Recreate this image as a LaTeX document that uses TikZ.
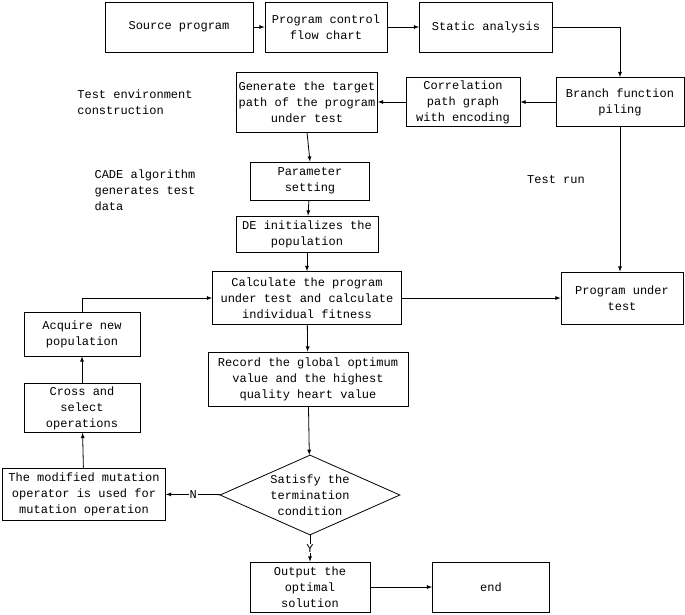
\documentclass[tikz,border=0pt]{standalone}
\usepackage{fontspec}
\setmainfont{Liberation Mono}
\usepackage{tikz}
\usetikzlibrary{arrows}
\usetikzlibrary{shapes.geometric}

\tikzset{box/.style={draw,thick,align=center,inner sep=2pt,font=\fontsize{12}{16}\selectfont},
  lab/.style={align=left,font=\fontsize{12}{16}\selectfont},
  arr/.style={thick,-latex}}

\begin{document}
\begin{tikzpicture}[x=1pt,y=-1pt]
\useasboundingbox (0,0) rectangle (685,614);

\node[box,minimum width=148,minimum height=50] (src) at (179,27) {Source program};
\node[box,minimum width=122,minimum height=50] (flow) at (326,27) {Program control\\flow chart};
\node[box,minimum width=133,minimum height=50] (static) at (486,27) {Static analysis};
\node[box,minimum width=128,minimum height=49] (piling) at (620,102) {Branch function\\piling};
\node[box,minimum width=114,minimum height=49] (corr) at (463,102) {Correlation\\path graph\\with encoding};
\node[box,minimum width=141,minimum height=60] (target) at (307,102) {Generate the target\\path of the program\\under test};
\node[box,minimum width=119,minimum height=38] (param) at (310,181) {Parameter\\setting};
\node[box,minimum width=142,minimum height=36] (init) at (307,234) {DE initializes the\\population};
\node[box,minimum width=189,minimum height=53] (calc) at (307,298) {Calculate the program\\under test and calculate\\individual fitness};
\node[box,minimum width=122,minimum height=52] (put) at (622,298) {Program under\\test};
\node[box,minimum width=200,minimum height=54] (record) at (308,379) {Record the global optimum\\value and the highest\\quality heart value};
\node[box,diamond,aspect=2.25,minimum width=180,minimum height=80,inner sep=0pt] (cond) at (310,495) {Satisfy the\\termination\\condition};
\node[box,minimum width=163,minimum height=52] (mut) at (84,494) {The modified mutation\\operator is used for\\mutation operation};
\node[box,minimum width=116,minimum height=49] (cross) at (82,408) {Cross and\\select\\operations};
\node[box,minimum width=116,minimum height=44] (acq) at (82,334) {Acquire new\\population};
\node[box,minimum width=120,minimum height=50] (out) at (310,587) {Output the\\optimal\\solution};
\node[box,minimum width=117,minimum height=50] (fin) at (491,587) {end};

\node[lab] (env) at (135,102) {Test environment\\construction};
\node[lab] (cade) at (145,190) {CADE algorithm\\generates test\\data};
\node[lab] (run) at (556,180) {Test run};

\draw[arr] (src) -- (flow);
\draw[arr] (flow) -- (static);
\draw[arr] (static.east) -| (piling.north);
\draw[arr] (piling) -- (corr);
\draw[arr] (corr) -- (target);
\draw[arr] (target.south) -- (param.north);
\draw[arr] (param) -- (init);
\draw[arr] (init) -- (calc);
\draw[arr] (piling) -- (piling |- put.north);
\draw[arr] (calc) -- (put);
\draw[arr] (calc) -- (record);
\draw[arr] (record) -- (cond);
\draw[arr] (cond) -- node[fill=white,inner sep=1pt,font=\fontsize{12}{14}\selectfont] {N} (mut);
\draw[arr] (mut) -- (cross);
\draw[arr] (cross) -- (acq);
\draw[arr] (acq.north) |- (calc.west);
\draw[arr] (cond) -- node[fill=white,inner sep=1pt,font=\fontsize{12}{14}\selectfont] {Y} (out);
\draw[arr] (out) -- (fin);

\end{tikzpicture}
\end{document}
